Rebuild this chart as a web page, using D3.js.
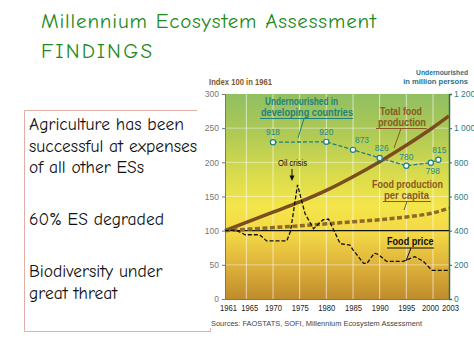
<!DOCTYPE html>
<html><head><meta charset="utf-8">
<script src="https://cdn.jsdelivr.net/npm/d3@7"></script>
<style>body{margin:0;background:#fff}svg{display:block}</style>
</head><body>
<svg id="c" width="474" height="355"></svg>
<script>
const titleLines = ["Millennium Ecosystem Assessment", "FINDINGS"];
const bodyParagraphs = [["Agriculture has been", "successful at expenses", "of all other ESs"], ["60% ES degraded"], ["Biodiversity under", "great threat"]];
const xTickYears = [1961, 1965, 1970, 1975, 1980, 1985, 1990, 1995, 2000, 2003];
const leftTicks = [0, 50, 100, 150, 200, 250, 300];
const rightTicks = [0, 200, 400, 600, 800, 1000, 1200];
const rightTickLabels = ["0", "200", "400", "600", "800", "1 000", "1 200"];

const totalYears = [1961, 1965, 1970, 1975, 1980, 1985, 1990, 1995, 2000, 2003];
const totalFood = [100, 112, 127, 142, 159, 179, 201, 225, 251, 268];
const perCapitaYears = [1961, 1965, 1970, 1975, 1980, 1985, 1990, 1995, 2000, 2003];
const perCapita = [100, 102, 104.5, 107, 110, 113, 116, 120, 126, 133];
const priceYears = [1961, 1963, 1964.8, 1967.5, 1968.8, 1972.6, 1973.3, 1974.6, 1976, 1977.6, 1979.4, 1980.4, 1982.6, 1984.4, 1985, 1987, 1987.6, 1989, 1989.8, 1991.3, 1994.4, 1996.6, 1998.2, 1999.8, 2003];
const foodPrice = [100, 101, 94, 94, 85, 85, 100, 167, 125, 103, 116, 117, 81, 79, 72, 52, 52, 67, 65, 55, 55, 62, 55, 42, 42];
const underYears = [1970, 1980, 1985, 1990, 1995, 1999.6, 2001];
const undernourished = [918, 920, 873, 826, 780, 798, 815];

const svg = d3.select("#c");
const font = "'Comic Sans MS','Comic Neue','Noto Sans',sans-serif";
const sans = "Arial, 'Liberation Sans', sans-serif";

function fitWidth(sel, target) {
  const w = sel.node().getComputedTextLength();
  if (w > 0) sel.attr("font-size", parseFloat(sel.attr("font-size")) * target / w);
  return sel;
}

// Title
const titleWidths = [335, 111];
svg.selectAll("text.title").data(titleLines).join("text").attr("class", "title")
  .attr("x", 41).attr("y", (d, i) => 27.5 + i * 30)
  .attr("fill", "#1c8a1c").attr("font-family", font).attr("font-size", 21)
  .attr("textLength", (d, i) => titleWidths[i]).attr("lengthAdjust", "spacing")
  .text(d => d);

// Body text
const lineH = 21.5, paraGap = 52;
let by = 130;
bodyParagraphs.forEach((p) => {
  p.forEach((t, li) => {
    svg.append("text").attr("x", 29).attr("y", by + li * lineH)
      .attr("fill", "#111").attr("font-family", font).attr("font-size", 17.5).text(t);
  });
  by += (p.length - 1) * lineH + paraGap;
});

// Box border
const bc = "#e0b0a8";
svg.append("path").attr("d", "M198,110.5 H24.5 V331.5 H210.5 V327").attr("fill", "none").attr("stroke", bc).attr("stroke-width", 1);

// Chart image white background
svg.append("rect").attr("x", 197).attr("y", 66).attr("width", 277).attr("height", 262).attr("fill", "#fff");

const x = d3.scaleLinear().domain([1961, 2003]).range([225, 449]);
const y = d3.scaleLinear().domain([0, 300]).range([299, 94]);
const yR = d3.scaleLinear().domain([0, 1200]).range([299, 94]);

const defs = svg.append("defs");
const g = defs.append("linearGradient").attr("id", "bg").attr("x1", 0).attr("x2", 0).attr("y1", 0).attr("y2", 1);
[[0, "#90bf62"], [0.2, "#b0ca55"], [0.4, "#dadc4c"], [0.55, "#f4e54a"], [0.68, "#f3d846"], [0.82, "#e0b63c"], [1, "#c08c2c"]]
  .forEach(([o, c]) => g.append("stop").attr("offset", o).attr("stop-color", c));

svg.append("rect").attr("x", x(1961)).attr("y", y(300)).attr("width", x(2003) - x(1961)).attr("height", y(0) - y(300)).attr("fill", "url(#bg)");

// Grid
svg.append("g").selectAll("line").data(xTickYears.slice(1, -1)).join("line")
  .attr("x1", d => x(d)).attr("x2", d => x(d)).attr("y1", y(300)).attr("y2", y(0))
  .attr("stroke", "#fff").attr("stroke-opacity", 0.6).attr("stroke-width", 1);
svg.append("g").selectAll("line").data([50, 150, 200, 250]).join("line")
  .attr("x1", x(1961)).attr("x2", x(2003)).attr("y1", d => y(d)).attr("y2", d => y(d))
  .attr("stroke", "#fff").attr("stroke-opacity", 0.45).attr("stroke-width", 1);

// Axes
const axL = svg.append("g").attr("transform", `translate(${x(1961)},0)`)
  .call(d3.axisLeft(y).tickValues(leftTicks).tickSize(3).tickPadding(3));
axL.select(".domain").attr("stroke", "#777");
axL.selectAll(".tick line").attr("stroke", "#777");
axL.selectAll("text").attr("fill", "#777").attr("font-family", sans).attr("font-size", 8.5);

const axR = svg.append("g").attr("transform", `translate(${x(2003)},0)`)
  .call(d3.axisRight(yR).tickValues(rightTicks).tickFormat((d, i) => rightTickLabels[i]).tickSize(3).tickPadding(2));
axR.select(".domain").attr("stroke", "#2c6e58").attr("stroke-width", 1.5);
axR.selectAll(".tick line").attr("stroke", "#2c6e58");
axR.selectAll("text").attr("fill", "#2a7e8a").attr("font-family", sans).attr("font-size", 8.5);

const xShift = {1961: 3, 1965: 3, 2000: -3, 2003: 1};
const axB = svg.append("g").attr("transform", `translate(0,${y(0)})`)
  .call(d3.axisBottom(x).tickValues(xTickYears).tickFormat(d3.format("d")).tickSize(0).tickPadding(6));
axB.select(".domain").attr("stroke", "#777");
axB.selectAll("text").attr("fill", "#222").attr("font-family", sans).attr("font-size", 8.8)
  .attr("dx", d => xShift[d] || 0)
  .attr("textLength", 17).attr("lengthAdjust", "spacingAndGlyphs");

// 100 line
svg.append("line").attr("x1", x(1961)).attr("x2", x(2003)).attr("y1", y(100)).attr("y2", y(100)).attr("stroke", "#111").attr("stroke-width", 1.2);

const line = d3.line().curve(d3.curveMonotoneX);
svg.append("path").attr("d", line(totalYears.map((d, i) => [x(d), y(totalFood[i])])))
  .attr("fill", "none").attr("stroke", "#7a4e1e").attr("stroke-width", 3.5);
svg.append("path").attr("d", line(perCapitaYears.map((d, i) => [x(d), y(perCapita[i])])))
  .attr("fill", "none").attr("stroke", "#8c6a28").attr("stroke-width", 3.5).attr("stroke-dasharray", "5,2.5");
svg.append("path").attr("d", d3.line()(priceYears.map((d, i) => [x(d), y(foodPrice[i])])))
  .attr("fill", "none").attr("stroke", "#111").attr("stroke-width", 1.3).attr("stroke-dasharray", "4,2");

// Undernourished
const teal = "#1d8080";
svg.append("path").attr("d", d3.line()(underYears.map((d, i) => [x(d), yR(undernourished[i])])))
  .attr("fill", "none").attr("stroke", teal).attr("stroke-width", 1.3).attr("stroke-dasharray", "4,2");
svg.append("g").selectAll("circle").data(underYears).join("circle")
  .attr("cx", d => x(d)).attr("cy", (d, i) => yR(undernourished[i])).attr("r", 2.6)
  .attr("fill", "#fff").attr("stroke", teal).attr("stroke-width", 1.2);
const uOff = [[0, -7], [0, -7], [9, -7], [2, -7], [0, -6], [2, 11], [1, -7]];
svg.append("g").selectAll("text").data(undernourished).join("text")
  .attr("x", (d, i) => x(underYears[i]) + uOff[i][0]).attr("y", (d, i) => yR(d) + uOff[i][1])
  .attr("text-anchor", "middle").attr("fill", "#1e8a8a").attr("font-family", sans).attr("font-size", 9.5)
  .attr("textLength", 14).attr("lengthAdjust", "spacingAndGlyphs")
  .text(d => d);

const lbl = (t, left, yy, col, size, weight, width) => svg.append("text").attr("x", left).attr("y", yy).attr("fill", col)
  .attr("font-family", sans).attr("font-size", size).attr("font-weight", weight)
  .attr("textLength", width).attr("lengthAdjust", "spacingAndGlyphs").text(t);
const seg = (pts, col, w) => svg.append("path").attr("d", "M" + pts.map(p => p.join(",")).join("L")).attr("fill", "none").attr("stroke", col).attr("stroke-width", w || 1);

// Header labels
lbl("Index 100 in 1961", 209, 85, "#7a5a32", 8.5, "bold", 63);
const hdr = (t, yy, w) => fitWidth(svg.append("text").attr("x", 468).attr("y", yy).attr("text-anchor", "end")
  .attr("fill", "#2a6f88").attr("font-family", sans).attr("font-size", 8).attr("font-weight", "bold").text(t), w);
hdr("Undernourished", 75, 52);
hdr("in million persons", 84, 65);

// Annotations
const aSize = 10.2;
const brown = "#8a5820";
lbl("Undernourished in", 265, 105, teal, aSize, "bold", 73);
lbl("developing countries", 261, 116, teal, aSize, "bold", 92);
seg([[260, 118.5], [353, 118.5]], teal);
seg([[304, 118.5], [298, 138]], teal);

lbl("Total food", 380, 115, brown, aSize, "bold", 42);
lbl("production", 378, 125.5, brown, aSize, "bold", 48);
seg([[376, 128.5], [427, 128.5]], brown);
seg([[401, 128.5], [394, 148]], brown);

lbl("Oil crisis", 278, 166, "#111", 8.5, "normal", 29);
seg([[292, 169], [292, 177]], "#111");
svg.append("path").attr("d", "M289.5,175.5 L292,181 L294.5,175.5 Z").attr("fill", "#111");

lbl("Food production", 372, 188, brown, aSize, "bold", 71);
lbl("per capita", 384, 198.5, brown, aSize, "bold", 45);
seg([[383, 201.5], [431, 201.5]], brown);
seg([[407, 201.5], [404, 210]], brown);

lbl("Food price", 387, 245, "#111", aSize, "bold", 46.5);
seg([[387, 248], [434, 248]], "#111");
seg([[411, 248], [406, 261]], "#111");

lbl("Sources: FAOSTATS, SOFI, Millennium Ecosystem Assessment", 211, 326, "#444", 8, "normal", 211);
</script>
</body></html>
